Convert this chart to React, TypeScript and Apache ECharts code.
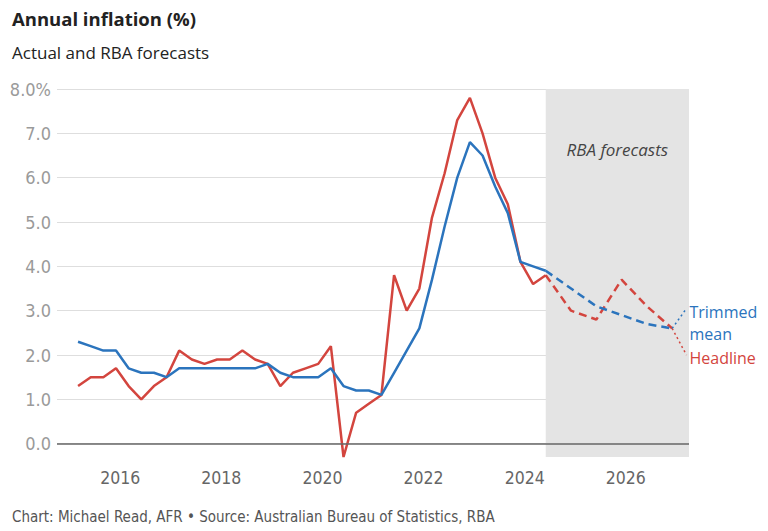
import React, { useEffect, useRef } from "react";
import * as echarts from "echarts";

const actualQuarters = [
  "2015-03", "2015-06", "2015-09", "2015-12",
  "2016-03", "2016-06", "2016-09", "2016-12",
  "2017-03", "2017-06", "2017-09", "2017-12",
  "2018-03", "2018-06", "2018-09", "2018-12",
  "2019-03", "2019-06", "2019-09", "2019-12",
  "2020-03", "2020-06", "2020-09", "2020-12",
  "2021-03", "2021-06", "2021-09", "2021-12",
  "2022-03", "2022-06", "2022-09", "2022-12",
  "2023-03", "2023-06", "2023-09", "2023-12",
  "2024-03", "2024-06",
];

const headlineActual = [
  1.3, 1.5, 1.5, 1.7,
  1.3, 1.0, 1.3, 1.5,
  2.1, 1.9, 1.8, 1.9,
  1.9, 2.1, 1.9, 1.8,
  1.3, 1.6, 1.7, 1.8,
  2.2, -0.3, 0.7, 0.9,
  1.1, 3.8, 3.0, 3.5,
  5.1, 6.1, 7.3, 7.8,
  7.0, 6.0, 5.4, 4.1,
  3.6, 3.8,
];

const trimmedActual = [
  2.3, 2.2, 2.1, 2.1,
  1.7, 1.6, 1.6, 1.5,
  1.7, 1.7, 1.7, 1.7,
  1.7, 1.7, 1.7, 1.8,
  1.6, 1.5, 1.5, 1.5,
  1.7, 1.3, 1.2, 1.2,
  1.1, 1.6, 2.1, 2.6,
  3.7, 4.9, 6.0, 6.8,
  6.5, 5.8, 5.2, 4.1,
  4.0, 3.9,
];

const forecastQuarters = ["2024-06", "2024-12", "2025-06", "2025-12", "2026-06", "2026-12"];
const headlineForecast = [3.8, 3.0, 2.8, 3.7, 3.1, 2.6];
const trimmedForecast = [3.9, 3.5, 3.1, 2.9, 2.7, 2.6];

const xTickYears = [2016, 2018, 2020, 2022, 2024, 2026];
const yTickValues = [0, 1, 2, 3, 4, 5, 6, 7, 8];
const xMin = 2014.75;
const xMax = 2027.25;
const yMin = -0.3;
const yMax = 8;

const leaderX = [2026.917, 2027.2];
const trimmedLeader = [2.6, 3.05];
const headlineLeader = [2.6, 2.0];

const RED = "#d3453e";
const BLUE = "#2b74bd";
const NARROW = "'Liberation Sans Narrow', 'DejaVu Sans Condensed', 'Roboto', sans-serif";
const SANS = "'Open Sans', 'Noto Sans', sans-serif";

function toYear(q: string): number {
  const [y, m] = q.split("-").map(Number);
  return y + (m - 1) / 12;
}

function pairs(xs: number[], ys: number[]) {
  return xs.map((x, i) => [x, ys[i]]);
}

export default function App() {
  const ref = useRef<HTMLDivElement>(null);

  useEffect(() => {
    if (!ref.current) return;
    const chart = echarts.init(ref.current, undefined, { renderer: "svg" });
    const actualX = actualQuarters.map(toYear);
    const fcX = forecastQuarters.map(toYear);

    chart.setOption({
      animation: false,
      backgroundColor: "#ffffff",
      grid: { left: 57, right: 79, top: 89, bottom: 74, containLabel: false },
      graphic: [
        {
          type: "text",
          left: 12,
          top: 9,
          style: { text: "Annual inflation (%)", fontFamily: SANS, fontWeight: "bold", fontSize: 18.5, fill: "#222" },
        },
        {
          type: "text",
          left: 12,
          top: 44,
          style: { text: "Actual and RBA forecasts", fontFamily: SANS, fontSize: 17, fill: "#222" },
        },
        {
          type: "text",
          left: 12,
          top: 509,
          style: {
            text: "Chart: Michael Read, AFR \u2022 Source: Australian Bureau of Statistics, RBA",
            fontFamily: NARROW,
            fontSize: 15,
            fill: "#555",
          },
        },
      ],
      xAxis: {
        type: "value",
        min: xMin,
        max: xMax,
        axisLine: { show: false, onZero: false },
        axisTick: { show: false, customValues: xTickYears },
        splitLine: { show: false },
        axisLabel: {
          customValues: xTickYears,
          margin: 12,
          color: "#666",
          fontFamily: NARROW,
          fontSize: 17.5,
          formatter: (v: number) => String(Math.round(v)),
        },
      },
      yAxis: {
        type: "value",
        min: yMin,
        max: yMax,
        axisLine: { show: false },
        axisTick: { show: false, customValues: yTickValues },
        splitLine: { show: true, lineStyle: { color: "#dedede", width: 1 } },
        axisLabel: {
          customValues: yTickValues,
          margin: 6,
          color: "#9a9a9a",
          fontFamily: NARROW,
          fontSize: 18,
          formatter: (v: number) => (v === yMax ? v.toFixed(1) + "%" : v.toFixed(1)),
        },
      },
      series: [
        {
          name: "forecastArea",
          type: "line",
          data: [],
          z: 1,
          silent: true,
          markArea: {
            silent: true,
            itemStyle: { color: "#e4e4e4" },
            label: {
              show: true,
              position: "insideTop",
              distance: 52,
              formatter: "RBA forecasts",
              fontFamily: SANS,
              fontStyle: "italic",
              fontSize: 17,
              color: "#444",
            },
            data: [[{ xAxis: toYear(forecastQuarters[0]) }, { xAxis: xMax }]],
          },
        },
        {
          name: "zero",
          type: "line",
          data: [],
          z: 2,
          silent: true,
          markLine: {
            silent: true,
            symbol: "none",
            label: { show: false },
            lineStyle: { color: "#666", width: 1.5, type: "solid" },
            data: [{ yAxis: 0 }],
          },
        },
        {
          name: "Headline",
          type: "line",
          z: 3,
          clip: false,
          symbol: "none",
          data: pairs(actualX, headlineActual),
          lineStyle: { color: RED, width: 2.5 },
        },
        {
          name: "Headline forecast",
          type: "line",
          z: 3,
          clip: false,
          symbol: "none",
          data: pairs(fcX, headlineForecast),
          lineStyle: { color: RED, width: 2.5, type: [8, 5] },
        },
        {
          name: "Headline leader",
          type: "line",
          z: 3,
          clip: false,
          symbol: "none",
          data: pairs(leaderX, headlineLeader),
          lineStyle: { color: RED, width: 1.5, type: [2, 3] },
          endLabel: {
            show: true,
            formatter: "Headline",
            distance: 3,
            offset: [0, 3],
            lineHeight: 22,
            color: RED,
            fontFamily: SANS,
            fontSize: 16,
          },
        },
        {
          name: "Trimmed mean",
          type: "line",
          z: 4,
          clip: false,
          symbol: "none",
          data: pairs(actualX, trimmedActual),
          lineStyle: { color: BLUE, width: 2.5 },
        },
        {
          name: "Trimmed mean forecast",
          type: "line",
          z: 4,
          clip: false,
          symbol: "none",
          data: pairs(fcX, trimmedForecast),
          lineStyle: { color: BLUE, width: 2.5, type: [8, 5] },
        },
        {
          name: "Trimmed leader",
          type: "line",
          z: 4,
          clip: false,
          symbol: "none",
          data: pairs(leaderX, trimmedLeader),
          lineStyle: { color: BLUE, width: 1.5, type: [2, 3] },
          endLabel: {
            show: true,
            formatter: "Trimmed\nmean",
            distance: 3,
            offset: [0, 15],
            lineHeight: 22,
            color: BLUE,
            fontFamily: SANS,
            fontSize: 16,
          },
        },
      ],
    });

    return () => chart.dispose();
  }, []);

  return (
    <div
      ref={ref}
      style={{ position: "fixed", left: 0, top: 0, width: 768, height: 531, background: "#fff" }}
    />
  );
}
